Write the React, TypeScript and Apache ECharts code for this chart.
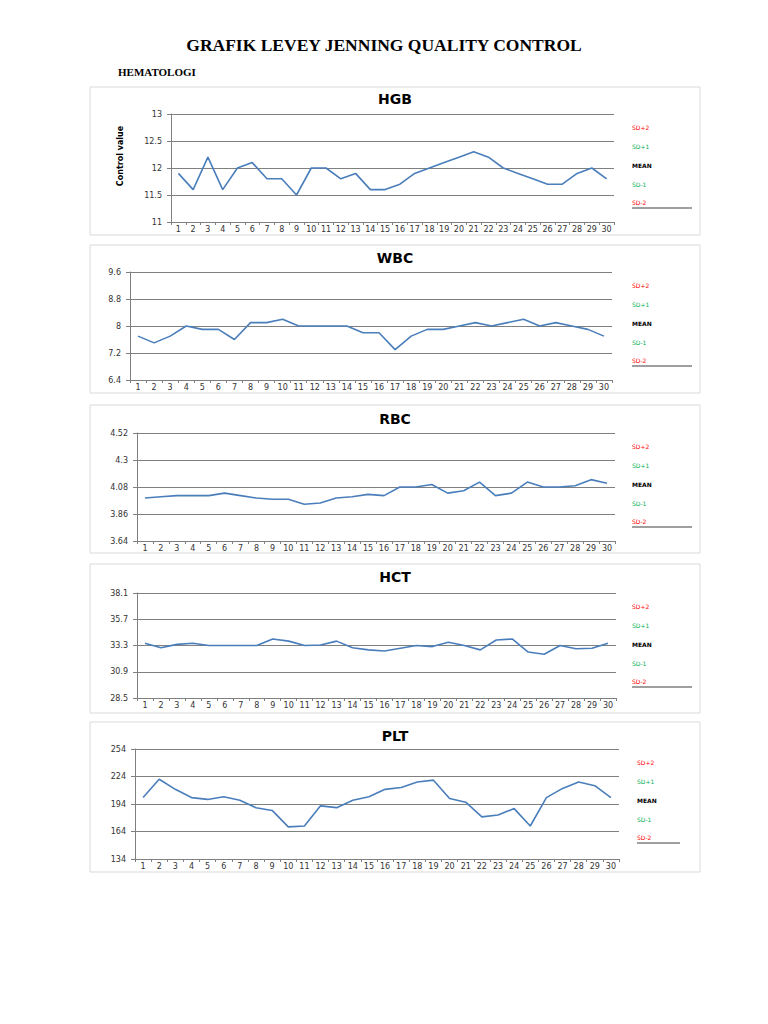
import React, { useEffect, useRef } from "react";
import * as echarts from "echarts";

const days = ["1","2","3","4","5","6","7","8","9","10","11","12","13","14","15","16","17","18","19","20","21","22","23","24","25","26","27","28","29","30"];

const hgbValues = [11.9,11.6,12.2,11.6,12.0,12.1,11.8,11.8,11.5,12.0,12.0,11.8,11.9,11.6,11.6,11.7,11.9,12.0,12.1,12.2,12.3,12.2,12.0,11.9,11.8,11.7,11.7,11.9,12.0,11.8];
const hgbTicks = ["11","11.5","12","12.5","13"];

const wbcValues = [7.7,7.5,7.7,8.0,7.9,7.9,7.6,8.1,8.1,8.2,8.0,8.0,8.0,8.0,7.8,7.8,7.3,7.7,7.9,7.9,8.0,8.1,8.0,8.1,8.2,8.0,8.1,8.0,7.9,7.7];
const wbcTicks = ["6.4","7.2","8","8.8","9.6"];

const rbcValues = [3.99,4.00,4.01,4.01,4.01,4.03,4.01,3.99,3.98,3.98,3.94,3.95,3.99,4.00,4.02,4.01,4.08,4.08,4.10,4.03,4.05,4.12,4.01,4.03,4.12,4.08,4.08,4.09,4.14,4.11];
const rbcTicks = ["3.64","3.86","4.08","4.3","4.52"];

const hctValues = [33.5,33.1,33.4,33.5,33.3,33.3,33.3,33.3,33.9,33.7,33.3,33.35,33.7,33.1,32.9,32.8,33.05,33.3,33.2,33.6,33.3,32.9,33.8,33.9,32.7,32.5,33.3,33.0,33.05,33.5];
const hctTicks = ["28.5","30.9","33.3","35.7","38.1"];

const pltValues = [201,221,210,201,199,202,198,190,187,169,170,192,190,198,202,210,212,218,220,200,196,180,182,189,170,201,211,218,214,201];
const pltTicks = ["134","164","194","224","254"];

const legendLabels = ["SD+2","SD+1","MEAN","SD-1","SD-2"];
const legendColors = ["#ff0000","#00b050","#000000","#00b050","#ff0000"];

const pageTitle = "GRAFIK LEVEY JENNING QUALITY CONTROL";
const sectionTitle = "HEMATOLOGI";
const yAxisName = "Control value";

type Panel = {
  name: string;
  values: number[];
  ticks: string[];
  box: [number, number, number, number];
  grid: { left: number; top: number; width: number; height: number };
  titleY: number;
  legendX: number;
  legendW: number;
};

const panels: Panel[] = [
  { name: "HGB", values: hgbValues, ticks: hgbTicks, box: [90, 87, 610, 148], grid: { left: 171, top: 114, width: 443, height: 108 }, titleY: 99, legendX: 632, legendW: 60 },
  { name: "WBC", values: wbcValues, ticks: wbcTicks, box: [90, 245, 610, 148], grid: { left: 130, top: 272, width: 482, height: 108 }, titleY: 258, legendX: 632, legendW: 60 },
  { name: "RBC", values: rbcValues, ticks: rbcTicks, box: [90, 405, 610, 148], grid: { left: 137, top: 433, width: 478, height: 108 }, titleY: 419, legendX: 632, legendW: 60 },
  { name: "HCT", values: hctValues, ticks: hctTicks, box: [90, 564, 610, 149], grid: { left: 137, top: 593, width: 479, height: 105 }, titleY: 577, legendX: 632, legendW: 60 },
  { name: "PLT", values: pltValues, ticks: pltTicks, box: [90, 722, 610, 150], grid: { left: 135, top: 749, width: 484, height: 110 }, titleY: 736, legendX: 637, legendW: 43 },
];

const GRAY = "#808080";
const LINE = "#4A7EBB";
const SANS = "DejaVu Sans";

export default function App() {
  const ref = useRef<HTMLDivElement>(null);
  useEffect(() => {
    if (!ref.current) return;
    const chart = echarts.init(ref.current, null, { renderer: "svg" });

    const grids: any[] = [];
    const xAxes: any[] = [];
    const yAxes: any[] = [];
    const series: any[] = [];
    const graphics: any[] = [];

    graphics.push({
      type: "text",
      x: 384, y: 45,
      style: { text: pageTitle, font: "bold 17.5px 'Liberation Serif'", fill: "#000", align: "center", verticalAlign: "middle" },
    });
    graphics.push({
      type: "text",
      x: 118, y: 72,
      style: { text: sectionTitle, font: "bold 11px 'Liberation Serif'", fill: "#000", align: "left", verticalAlign: "middle" },
    });

    panels.forEach((p, i) => {
      const min = parseFloat(p.ticks[0]);
      const step = parseFloat(p.ticks[1]) - parseFloat(p.ticks[0]);
      grids.push({ ...p.grid, containLabel: false });
      xAxes.push({
        type: "category",
        gridIndex: i,
        data: days,
        boundaryGap: true,
        axisLine: { show: true, lineStyle: { color: GRAY, width: 1 } },
        axisTick: { show: true, interval: 0, length: 3, lineStyle: { color: GRAY } },
        axisLabel: { interval: 0, fontSize: 8, color: "#333", margin: 3, fontFamily: SANS },
        splitLine: { show: false },
      });
      yAxes.push({
        type: "value",
        gridIndex: i,
        min: 0,
        max: p.ticks.length - 1,
        interval: 1,
        axisLine: { show: true, lineStyle: { color: GRAY, width: 1 } },
        axisTick: { show: true, length: 4, lineStyle: { color: GRAY } },
        axisLabel: { fontSize: 8, color: "#333", margin: 9, fontFamily: SANS, formatter: (v: number) => p.ticks[Math.round(v)] ?? "" },
        splitLine: { show: true, lineStyle: { color: GRAY, width: 1 } },
      });
      series.push({
        type: "line",
        xAxisIndex: i,
        yAxisIndex: i,
        data: p.values.map((v) => (v - min) / step),
        showSymbol: false,
        symbol: "none",
        lineStyle: { color: LINE, width: 1.6 },
        itemStyle: { color: LINE },
      });

      const [bx, by, bw, bh] = p.box;
      graphics.push({
        type: "rect",
        shape: { x: bx, y: by, width: bw, height: bh },
        style: { fill: "none", stroke: "#d9d9d9", lineWidth: 1 },
        silent: true,
      });
      graphics.push({
        type: "text",
        x: bx + bw / 2, y: p.titleY,
        style: { text: p.name, font: `bold 14px '${SANS}'`, fill: "#000", align: "center", verticalAlign: "middle" },
      });
      const offs = [13, 32, 51, 70, 88];
      legendLabels.forEach((t, k) => {
        graphics.push({
          type: "text",
          x: p.legendX, y: p.grid.top + offs[k],
          style: { text: t, font: `${k === 2 ? "bold " : ""}6px '${SANS}'`, fill: legendColors[k], align: "left", verticalAlign: "middle" },
        });
      });
      graphics.push({
        type: "line",
        shape: { x1: p.legendX, y1: p.grid.top + 94, x2: p.legendX + p.legendW, y2: p.grid.top + 94 },
        style: { stroke: "#404040", lineWidth: 1.2 },
      });
    });

    graphics.push({
      type: "text",
      x: 120, y: 156,
      rotation: Math.PI / 2,
      style: { text: yAxisName, font: `bold 8px '${SANS}'`, fill: "#000", align: "center", verticalAlign: "middle" },
    });

    chart.setOption({
      animation: false,
      backgroundColor: "#ffffff",
      grid: grids,
      xAxis: xAxes,
      yAxis: yAxes,
      series,
      graphic: graphics,
    });
    return () => chart.dispose();
  }, []);
  return <div ref={ref} style={{ position: "absolute", left: 0, top: 0, width: 768, height: 1024 }} />;
}
